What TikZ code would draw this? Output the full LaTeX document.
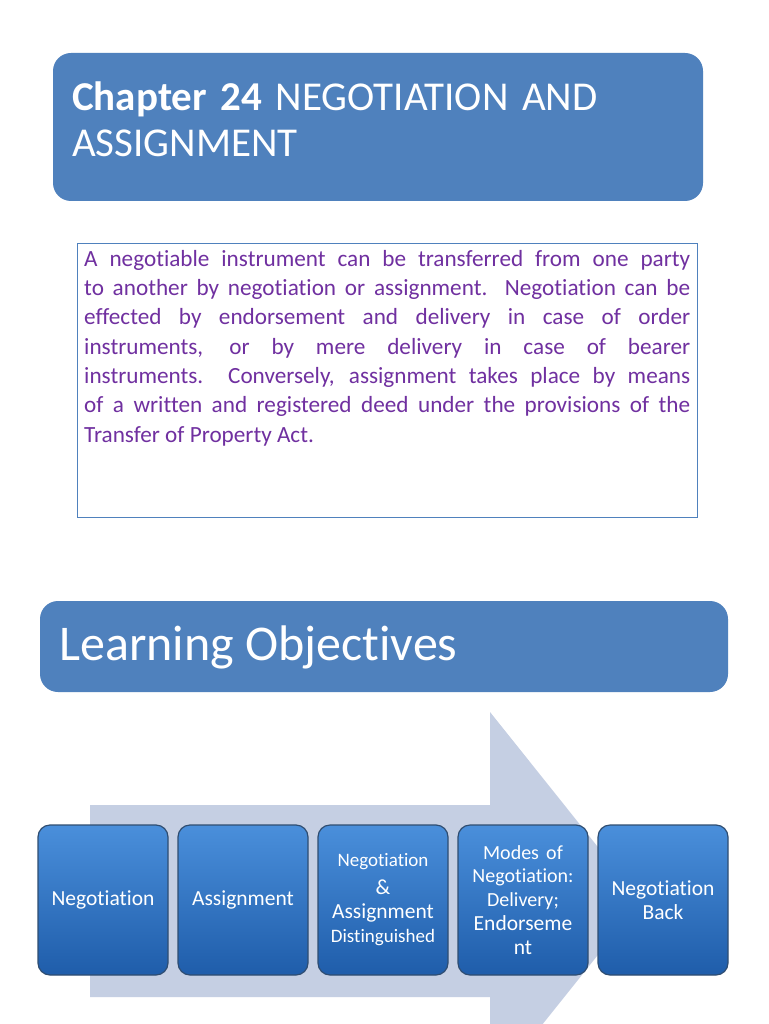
\documentclass[tikz,border=0pt]{standalone}
\usepackage{fontspec}
\setmainfont[Ligatures=CommonOff]{Carlito}
\definecolor{hdr}{HTML}{4F81BD}
\definecolor{purp}{HTML}{7030A0}
\definecolor{arrowc}{HTML}{C5CFE3}
\definecolor{boxtop}{HTML}{4A8FDB}
\definecolor{boxbot}{HTML}{1F5DAA}
\tikzset{
  header/.style={fill=hdr, draw=none, rounded corners=18pt},
  objbox/.style={rounded corners=12pt, draw=hdr!60!black, line width=1.2pt, top color=boxtop, bottom color=boxbot, minimum width=130pt, minimum height=150pt, text=white, align=center, font=\fontsize{21.5}{24}\selectfont, inner sep=2pt, text width=126pt},
}
\begin{document}
\begin{tikzpicture}[x=1pt,y=-1pt]
\useasboundingbox (0,0) rectangle (768,1024);
\fill[white] (0,0) rectangle (768,1024);
\fill[header] (53,53) rectangle (703,201);
\node[anchor=north west, text=white, align=left, text width=620pt, inner sep=0pt, font=\fontsize{41}{46}\selectfont] (title) at (72,82) {\textbf{Chapter 24} NEGOTIATION AND\\ASSIGNMENT};
\draw[hdr, line width=1pt] (77,243) rectangle (697,517);
\node[anchor=north west, text=purp, text width=606pt, align=justify, inner sep=0pt, font=\fontsize{23.2}{29.3}\selectfont] (para) at (84,250) {\hyphenpenalty=10000\relax A negotiable instrument can be transferred from one party\linebreak to another by negotiation or assignment. Negotiation can be\linebreak effected by endorsement and delivery in case of order\linebreak instruments, or by mere delivery in case of bearer\linebreak instruments.\ \ Conversely, assignment takes place by means\linebreak of a written and registered deed under the provisions of the\linebreak Transfer of Property Act.};
\fill[header] (40,601) rectangle (728,692);
\node[anchor=west, text=white, inner sep=0pt, font=\fontsize{50}{56}\selectfont] (lo) at (59,647) {Learning Objectives};
\fill[arrowc] (90,805) -- (490,805) -- (490,712) -- (641,901) -- (490,1090) -- (490,997) -- (90,997) -- cycle;
\node[objbox] (b1) at (103,900) {Negotiation};
\node[objbox] (b2) at (243,900) {Assignment};
\node[objbox] (b3) at (383,900) {{\fontsize{19}{22}\selectfont Negotiation}\\[4pt]\&\\Assignment\\{\fontsize{19}{22}\selectfont Distinguished}};
\node[objbox] (b4) at (523,900) {{\fontsize{20}{23}\selectfont Modes of\\Negotiation:\\Delivery;}\\Endorseme\\nt};
\node[objbox] (b5) at (663,900) {Negotiation\\Back};
\end{tikzpicture}
\end{document}
